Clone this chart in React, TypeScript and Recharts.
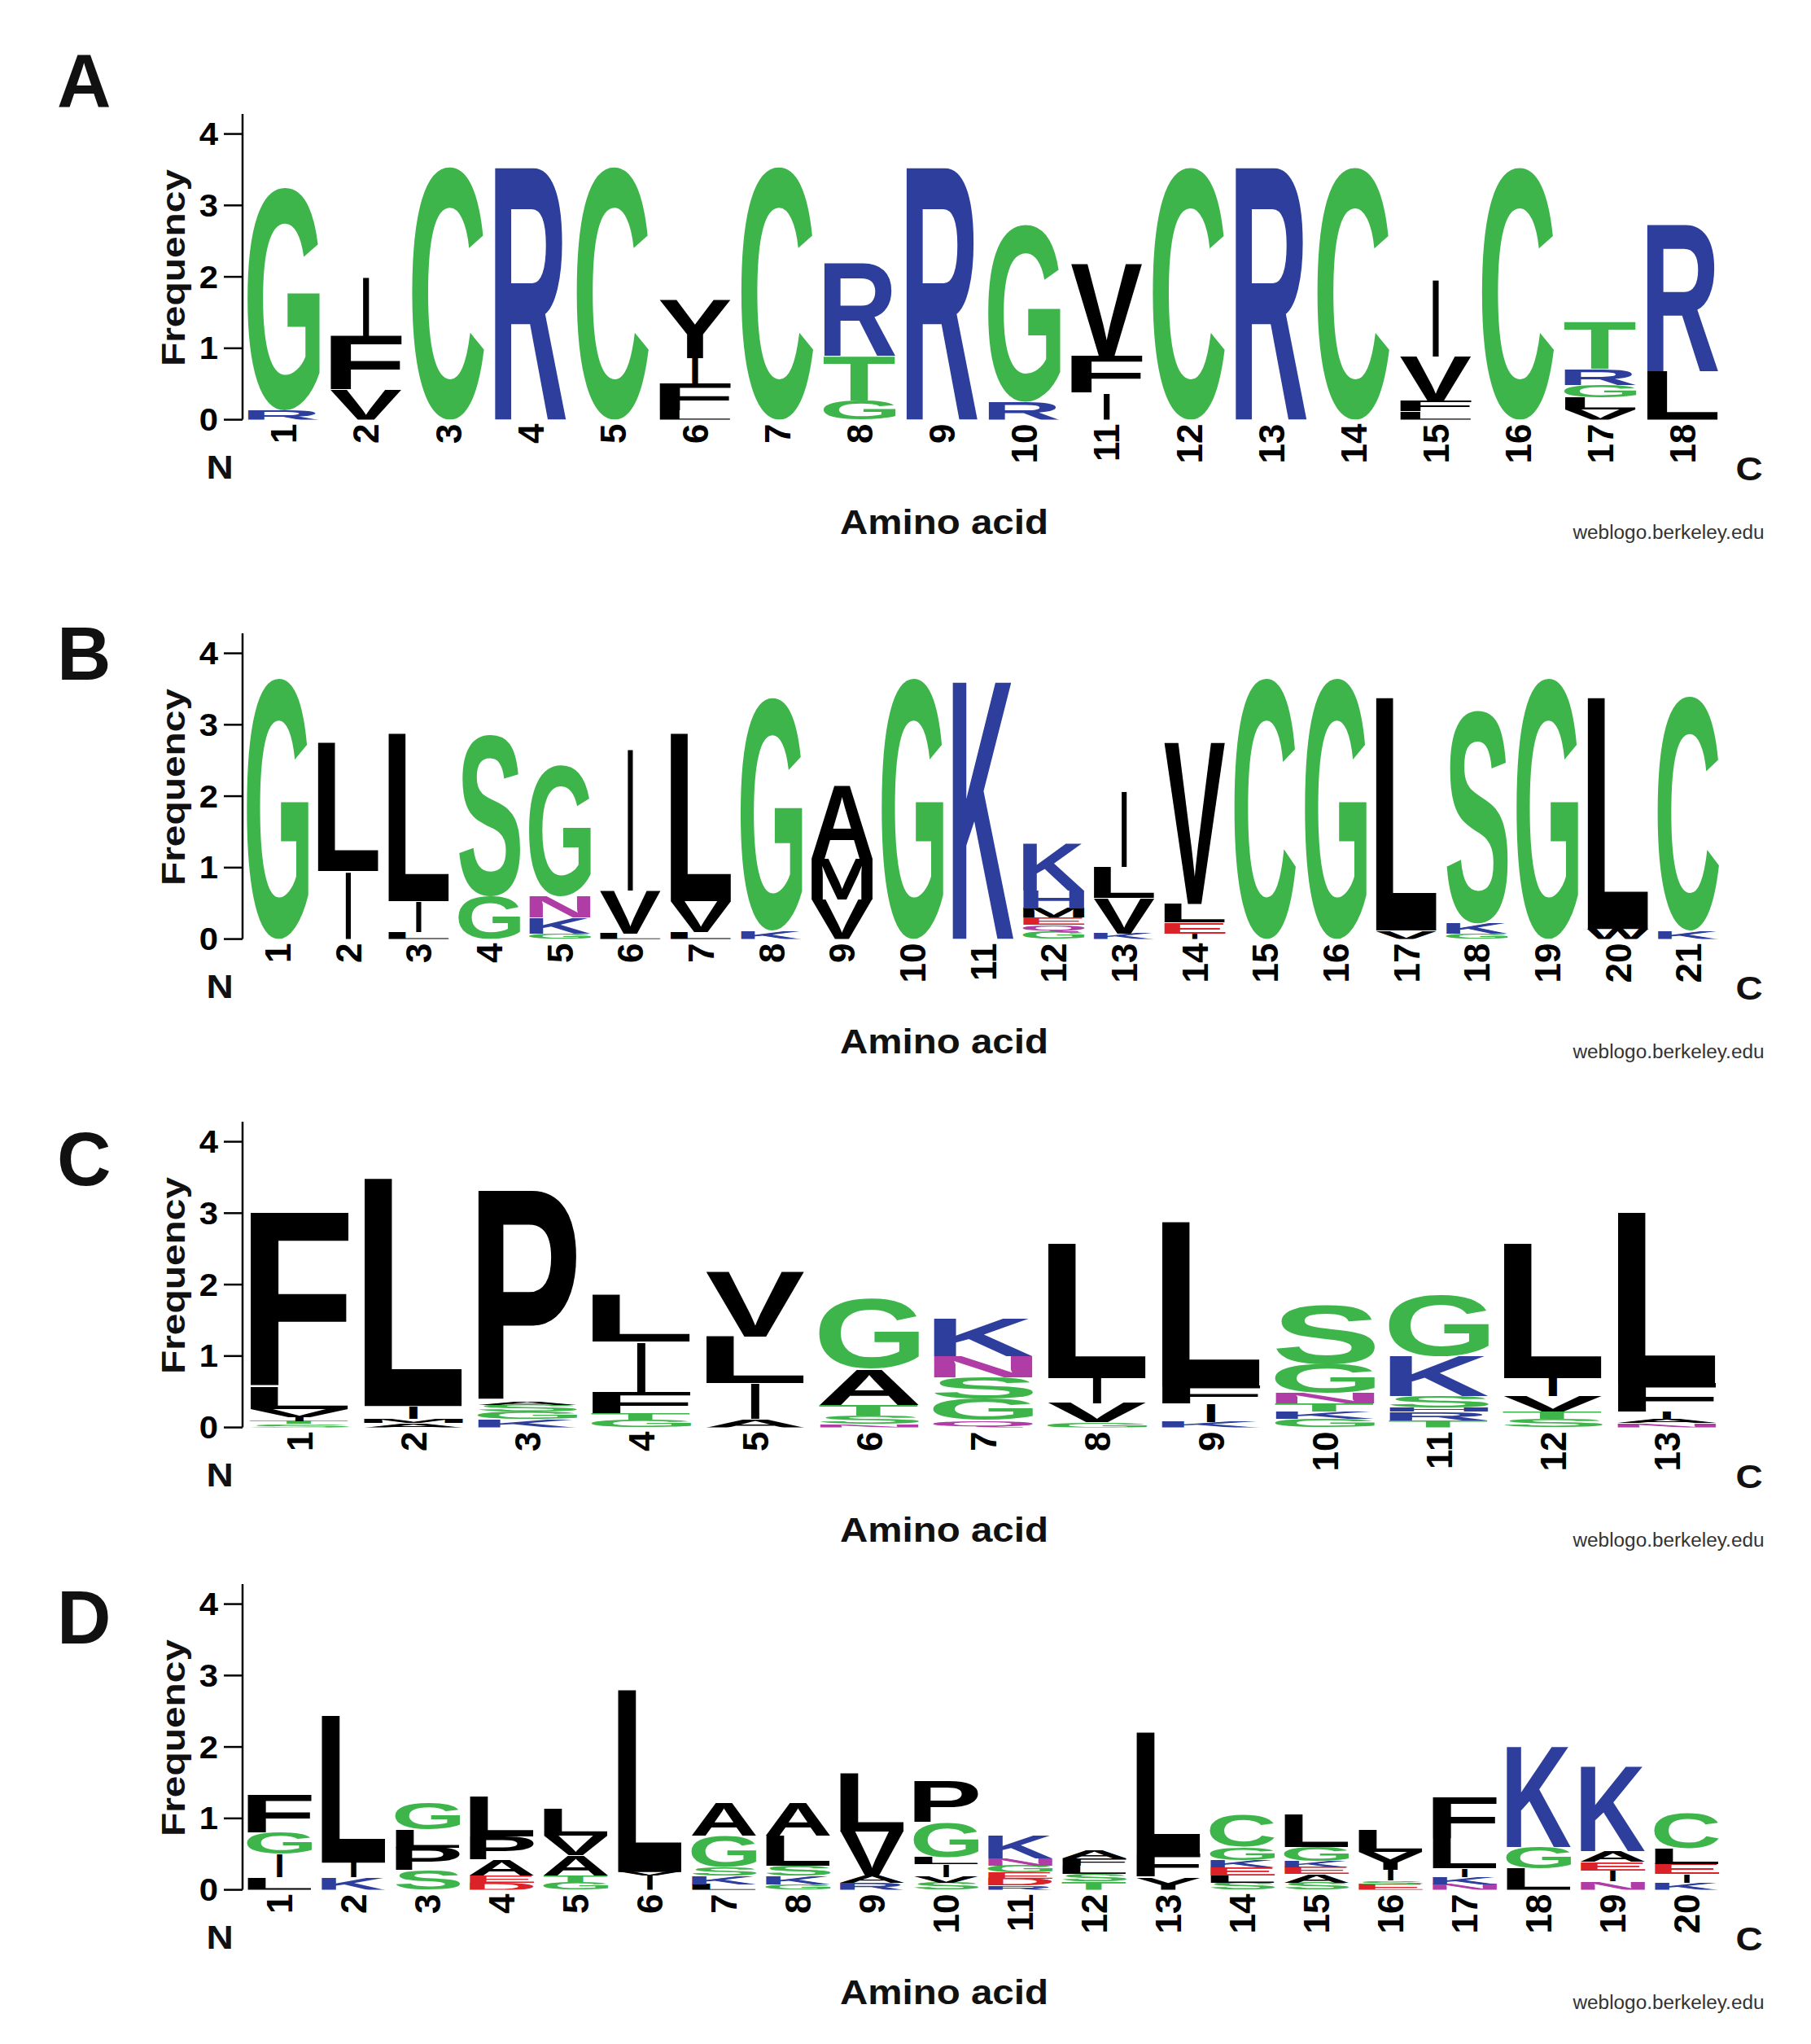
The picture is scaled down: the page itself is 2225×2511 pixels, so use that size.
import React from "react";
import { BarChart, Bar, XAxis, YAxis } from "recharts";

type Stack = [string, number][];

// Letter stacks, bottom to top: [residue, height in bits]
const logoA: Stack[] = [
  [["R", 0.13], ["G", 3.12]],
  [["V", 0.42], ["F", 0.75], ["I", 0.83]],
  [["C", 3.54]],
  [["R", 3.53]],
  [["C", 3.54]],
  [["L", 0.13], ["F", 0.38], ["I", 0.35], ["Y", 0.82]],
  [["C", 3.54]],
  [["G", 0.27], ["T", 0.62], ["R", 1.3]],
  [["R", 3.53]],
  [["R", 0.25], ["G", 2.48]],
  [["I", 0.37], ["F", 0.52], ["V", 1.29]],
  [["C", 3.53]],
  [["R", 3.53]],
  [["C", 3.53]],
  [["L", 0.12], ["F", 0.14], ["V", 0.62], ["I", 1.08]],
  [["C", 3.53]],
  [["V", 0.14], ["L", 0.17], ["G", 0.18], ["R", 0.22], ["T", 0.66]],
  [["L", 0.68], ["R", 2.05]],
];

const logoB: Stack[] = [
  [["G", 3.65]],
  [["I", 0.95], ["L", 1.8]],
  [["L", 0.1], ["I", 0.43], ["L", 2.35]],
  [["G", 0.6], ["S", 2.26]],
  [["G", 0.08], ["K", 0.22], ["N", 0.3], ["G", 1.83]],
  [["L", 0.08], ["V", 0.6], ["I", 2.0]],
  [["L", 0.1], ["V", 0.43], ["L", 2.35]],
  [["K", 0.12], ["G", 3.26]],
  [["V", 0.55], ["M", 0.57], ["A", 1.04]],
  [["G", 3.65]],
  [["K", 3.65]],
  [["G", 0.1], ["Q", 0.1], ["E", 0.1], ["M", 0.13], ["H", 0.25], ["K", 0.67]],
  [["K", 0.08], ["V", 0.5], ["L", 0.43], ["I", 1.06]],
  [["I", 0.08], ["E", 0.15], ["L", 0.26], ["V", 2.26]],
  [["C", 3.65]],
  [["G", 3.65]],
  [["V", 0.12], ["L", 3.26]],
  [["G", 0.08], ["K", 0.14], ["S", 2.98]],
  [["G", 3.65]],
  [["W", 0.14], ["L", 3.24]],
  [["K", 0.12], ["C", 3.28]],
];

const logoC: Stack[] = [
  [["S", 0.05], ["T", 0.04], ["I", 0.05], ["V", 0.12], ["L", 0.3], ["F", 2.45]],
  [["A", 0.06], ["M", 0.06], ["I", 0.18], ["L", 3.19]],
  [["K", 0.12], ["G", 0.1], ["S", 0.1], ["A", 0.04], ["P", 2.96]],
  [["G", 0.1], ["T", 0.1], ["F", 0.3], ["I", 0.7], ["L", 0.66]],
  [["A", 0.12], ["I", 0.5], ["L", 0.65], ["V", 0.9]],
  [["N", 0.05], ["S", 0.12], ["T", 0.15], ["A", 0.5], ["G", 0.98]],
  [["Q", 0.1], ["G", 0.3], ["S", 0.3], ["N", 0.3], ["K", 0.53]],
  [["G", 0.07], ["V", 0.27], ["I", 0.35], ["L", 1.89]],
  [["K", 0.08], ["I", 0.25], ["F", 0.25], ["L", 2.3]],
  [["G", 0.12], ["K", 0.1], ["T", 0.12], ["N", 0.14], ["G", 0.4], ["S", 0.82]],
  [["T", 0.1], ["R", 0.12], ["H", 0.06], ["S", 0.16], ["K", 0.56], ["G", 0.86]],
  [["S", 0.12], ["T", 0.1], ["V", 0.22], ["I", 0.25], ["L", 1.89]],
  [["N", 0.06], ["A", 0.06], ["I", 0.1], ["F", 0.4], ["L", 2.39]],
];

const logoD: Stack[] = [
  [["L", 0.18], ["I", 0.32], ["G", 0.3], ["F", 0.53]],
  [["K", 0.18], ["I", 0.2], ["L", 2.06]],
  [["S", 0.27], ["P", 0.32], ["L", 0.25], ["G", 0.38]],
  [["D", 0.1], ["E", 0.1], ["A", 0.22], ["P", 0.33], ["L", 0.55]],
  [["G", 0.1], ["T", 0.1], ["A", 0.28], ["V", 0.28], ["L", 0.38]],
  [["I", 0.2], ["V", 0.05], ["L", 2.55]],
  [["L", 0.08], ["K", 0.12], ["S", 0.12], ["G", 0.44], ["A", 0.46]],
  [["G", 0.08], ["K", 0.12], ["S", 0.14], ["L", 0.42], ["A", 0.46]],
  [["R", 0.1], ["A", 0.1], ["V", 0.62], ["L", 0.82]],
  [["S", 0.1], ["V", 0.08], ["I", 0.18], ["L", 0.1], ["G", 0.48], ["P", 0.58]],
  [["R", 0.06], ["D", 0.1], ["E", 0.08], ["G", 0.1], ["N", 0.1], ["K", 0.32]],
  [["T", 0.12], ["S", 0.1], ["L", 0.12], ["F", 0.1], ["A", 0.11]],
  [["Y", 0.18], ["F", 0.33], ["L", 1.7]],
  [["S", 0.1], ["L", 0.1], ["E", 0.12], ["K", 0.1], ["G", 0.18], ["C", 0.45]],
  [["S", 0.1], ["A", 0.12], ["E", 0.1], ["K", 0.08], ["G", 0.2], ["L", 0.45]],
  [["E", 0.08], ["S", 0.05], ["I", 0.15], ["Y", 0.25], ["L", 0.3]],
  [["N", 0.08], ["K", 0.1], ["I", 0.12], ["L", 0.42], ["F", 0.58]],
  [["L", 0.3], ["G", 0.3], ["K", 1.42]],
  [["N", 0.12], ["I", 0.15], ["E", 0.12], ["A", 0.15], ["K", 1.2]],
  [["K", 0.1], ["I", 0.12], ["E", 0.14], ["L", 0.22], ["C", 0.5]],
];

const panelLabels = ["A", "B", "C", "D"];
const yTicks = [0, 1, 2, 3, 4];
const Y_MAX = 4.28;

const FONT = "'Liberation Sans', Arial, Helvetica, sans-serif";
const GREEN = "#3db54a";
const BLUE = "#2d3e9c";
const PURPLE = "#b03ca6";
const RED = "#dc2229";
const COLORS: Record<string, string> = {
  G: GREEN, S: GREEN, T: GREEN, C: GREEN,
  N: PURPLE, Q: PURPLE,
  K: BLUE, R: BLUE, H: BLUE,
  D: RED, E: RED,
};

const metricCache = new Map<string, { l: number; r: number; t: number; b: number }>();
function glyphBox(ch: string) {
  const hit = metricCache.get(ch);
  if (hit) return hit;
  let box = { l: 4, r: 68, t: -72, b: 0 };
  try {
    const c = document.createElement("canvas");
    const ctx = c.getContext("2d");
    if (ctx) {
      ctx.font = `bold 100px ${FONT}`;
      const m = ctx.measureText(ch);
      box = {
        l: -m.actualBoundingBoxLeft,
        r: m.actualBoundingBoxRight,
        t: -m.actualBoundingBoxAscent,
        b: m.actualBoundingBoxDescent,
      };
    }
  } catch (e) {
    // keep default box
  }
  metricCache.set(ch, box);
  return box;
}

function Glyph(props: { x: number; y: number; width: number; height: number; ch?: string }) {
  const { x, y, width, height, ch } = props;
  if (!ch || !(height > 0.3) || !(width > 0)) return null;
  const box = glyphBox(ch);
  let w = width;
  let x0 = x;
  if (ch === "I") {
    w = width * 0.09;
    x0 = x + (width - w) / 2;
  }
  const sx = w / (box.r - box.l);
  const sy = height / (box.b - box.t);
  const tx = x0 - box.l * sx;
  const ty = y - box.t * sy;
  return (
    <text
      transform={`translate(${tx},${ty}) scale(${sx},${sy})`}
      x={0}
      y={0}
      fontSize={100}
      fontFamily={FONT}
      fontWeight="bold"
      fill={COLORS[ch] || "#000"}
    >
      {ch}
    </text>
  );
}

function buildRows(stacks: Stack[]) {
  const depth = Math.max(...stacks.map((s) => s.length));
  const rows = stacks.map((s, i) => {
    const row: Record<string, any> = { pos: String(i + 1) };
    for (let k = 0; k < depth; k++) {
      row[`h${k}`] = s[k] ? s[k][1] : 0;
      row[`c${k}`] = s[k] ? s[k][0] : "";
    }
    return row;
  });
  return { rows, depth };
}

const XTick = (p: any) => {
  const { x, y, payload } = p;
  return (
    <text
      transform={`translate(${x + 15.8},${y + 5}) rotate(-90)`}
      textAnchor="end"
      fontSize={44}
      fontWeight="bold"
      fontFamily={FONT}
      fill="#000"
    >
      {payload.value}
    </text>
  );
};

const YTick = (p: any) => {
  const { x, y, payload } = p;
  return (
    <text
      transform={`translate(${x},${y + 13.6}) scale(1.1,1)`}
      textAnchor="end"
      fontSize={38}
      fontWeight="bold"
      fontFamily={FONT}
      fill="#000"
    >
      {payload.value}
    </text>
  );
};

const PLOT_H = 375.6;
const CHART_TOP_MARGIN = 10;
const X_AXIS_H = 60;

function LogoChart({ stacks, zero }: { stacks: Stack[]; zero: number }) {
  const { rows, depth } = buildRows(stacks);
  const top = zero - PLOT_H - CHART_TOP_MARGIN;
  const keys = Array.from({ length: depth }, (_, k) => k);
  return (
    <div style={{ position: "absolute", left: 0, top }}>
      <BarChart
        width={2225}
        height={PLOT_H + CHART_TOP_MARGIN + X_AXIS_H}
        data={rows}
        margin={{ top: CHART_TOP_MARGIN, right: 107, bottom: 0, left: 238 }}
        barCategoryGap="6%"
      >
        <XAxis
          dataKey="pos"
          type="category"
          axisLine={false}
          tickLine={false}
          tickSize={0}
          tickMargin={0}
          height={X_AXIS_H}
          interval={0}
          tick={<XTick />}
        />
        <YAxis
          type="number"
          domain={[0, Y_MAX]}
          ticks={yTicks}
          allowDataOverflow
          width={60}
          tickSize={23}
          tickMargin={7}
          axisLine={{ stroke: "#000", strokeWidth: 2.5 }}
          tickLine={{ stroke: "#000", strokeWidth: 2.5 }}
          tick={<YTick />}
        />
        {keys.map((k) => (
          <Bar
            key={k}
            dataKey={`h${k}`}
            stackId="logo"
            isAnimationActive={false}
            shape={(p: any) => (
              <Glyph
                x={p.x}
                y={p.y}
                width={p.width}
                height={p.height}
                ch={p.payload ? p.payload[`c${k}`] : ""}
              />
            )}
          />
        ))}
      </BarChart>
    </div>
  );
}

const panelZero = [516, 1154, 1754, 2322];
const panelLetterBaseline = [131, 835, 1456, 2019];

export default function App() {
  const logos = [logoA, logoB, logoC, logoD];
  return (
    <div
      style={{
        position: "absolute",
        left: 0,
        top: 0,
        width: 2225,
        height: 2511,
        background: "#ffffff",
        overflow: "hidden",
      }}
    >
      <svg
        width={2225}
        height={2511}
        style={{ position: "absolute", left: 0, top: 0 }}
        fontFamily={FONT}
      >
        {panelZero.map((z, i) => (
          <g key={i}>
            <text x={70} y={panelLetterBaseline[i]} fontSize={92} fontWeight="bold" fill="#111">
              {panelLabels[i]}
            </text>
            <text
              transform={`translate(227,${z - 187}) rotate(-90)`}
              textAnchor="middle"
              fontSize={40}
              fontWeight="bold"
              textLength={242}
              lengthAdjust="spacingAndGlyphs"
              fill="#111"
            >
              Frequency
            </text>
            <text
              transform={`translate(270,${z + 72}) scale(1.15,1)`}
              textAnchor="middle"
              fontSize={40}
              fontWeight="bold"
              fill="#111"
            >
              N
            </text>
            <text
              transform={`translate(2149,${z + 74}) scale(1.15,1)`}
              textAnchor="middle"
              fontSize={40}
              fontWeight="bold"
              fill="#111"
            >
              C
            </text>
            <text
              x={1160}
              y={z + 140}
              textAnchor="middle"
              fontSize={42}
              fontWeight="bold"
              textLength={256}
              lengthAdjust="spacingAndGlyphs"
              fill="#111"
            >
              Amino acid
            </text>
            <text
              x={2050}
              y={z + 146}
              textAnchor="middle"
              fontSize={23}
              textLength={235}
              lengthAdjust="spacingAndGlyphs"
              fill="#333"
            >
              weblogo.berkeley.edu
            </text>
          </g>
        ))}
      </svg>
      {logos.map((l, i) => (
        <LogoChart key={i} stacks={l} zero={panelZero[i]} />
      ))}
    </div>
  );
}
